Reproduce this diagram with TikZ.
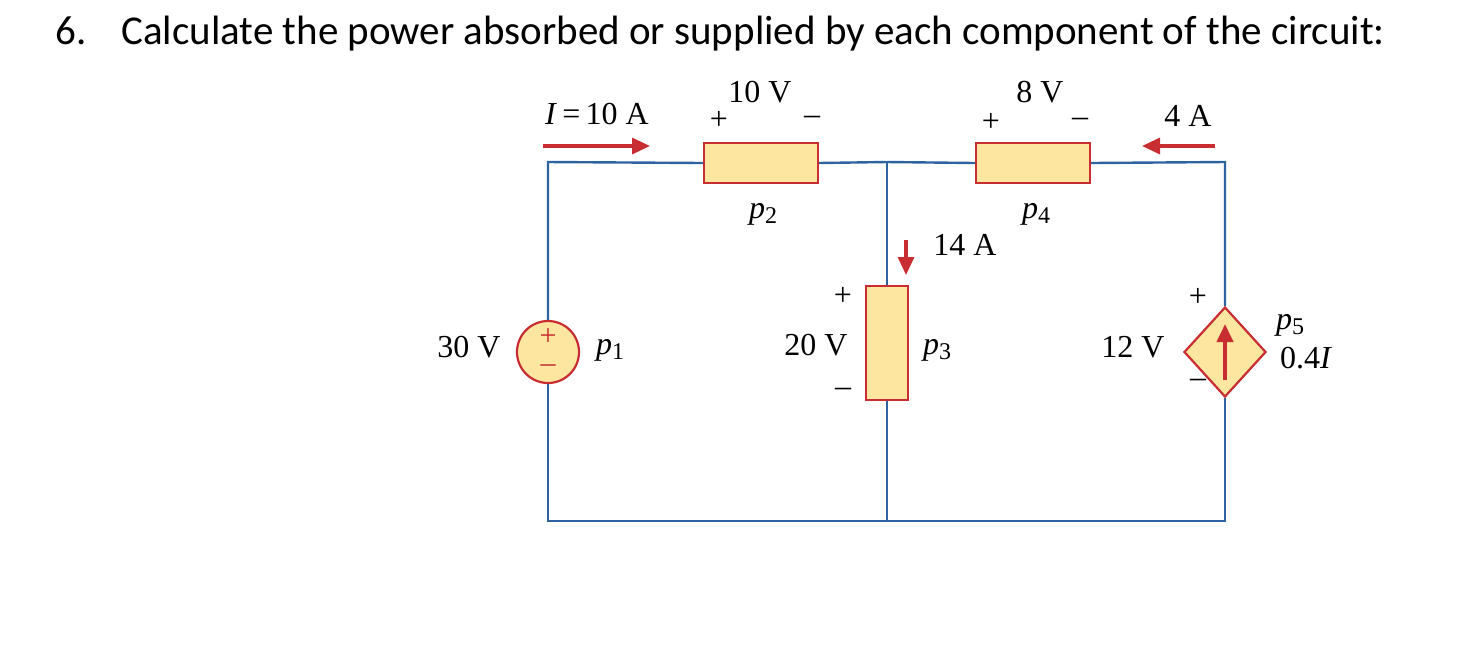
\documentclass[tikz,border=0pt]{standalone}
\usepackage{fontspec}
\setmainfont{Liberation Serif}
\newfontfamily\titlefont{Carlito}
\usetikzlibrary{shapes.geometric,arrows.meta}
\definecolor{wire}{RGB}{45,100,160}
\definecolor{fillc}{RGB}{253,230,160}
\definecolor{redc}{RGB}{200,45,50}
\newcommand{\pp}[1]{\textit{p}\raisebox{-0.35ex}{\fontsize{12}{12}\selectfont #1}}
\tikzset{
  w/.style={draw=wire,line width=1.2pt},
  res/.style={draw=redc,fill=fillc,line width=1.1pt,rectangle,inner sep=0pt},
  lbl/.style={font=\fontsize{16}{18}\selectfont,inner sep=1pt},
  cur/.style={redc,line width=1.6pt,-{Triangle[length=9pt,width=8pt]}},
}
\begin{document}
\begin{tikzpicture}[x=0.5pt,y=-0.5pt]
\useasboundingbox (0,0) rectangle (1472,650);
\node[anchor=west,font=\titlefont\fontsize{20.5}{24}\selectfont,inner sep=0pt] (title) at (55,34) {6.\hspace{0.85em}Calculate the power absorbed or supplied by each component of the circuit:};
% corners
\coordinate (tl) at (548,162); \coordinate (tm) at (887,162); \coordinate (tr) at (1225,162);
\coordinate (bl) at (548,521); \coordinate (bm) at (887,521); \coordinate (br) at (1225,521);
% components
\node[res,minimum width=57pt,minimum height=20pt] (r2) at (761,163) {};
\node[res,minimum width=57pt,minimum height=20pt] (r4) at (1033,163) {};
\node[res,minimum width=21pt,minimum height=57pt] (r3) at (887,343) {};
\node[circle,draw=redc,fill=fillc,line width=1.1pt,minimum size=31pt,inner sep=0pt] (vs) at (548,352) {};
\node[diamond,draw=redc,fill=fillc,line width=1.1pt,minimum width=41pt,minimum height=45pt,inner sep=0pt] (cs) at (1225,352) {};
% wires
\draw[w] (vs.north) -- (tl) -- (r2.west);
\draw[w] (r2.east) -- (tm) -- (r4.west);
\draw[w] (r4.east) -- (tr) -- (cs.north);
\draw[w] (cs.south) -- (br) -- (bm) -- (bl) -- (vs.south);
\draw[w] (tm) -- (r3.north);
\draw[w] (r3.south) -- (bm);
% source symbols
\node[redc,font=\fontsize{15}{15}\selectfont,inner sep=0pt] (vp) at (548,337) {+};
\node[redc,font=\fontsize{15}{15}\selectfont,inner sep=0pt] (vm) at (548,369) {–};
\coordinate (ca) at (1225,380); \coordinate (cb) at (1225,324);
\draw[cur,line width=2pt] (ca) -- (cb);
% current arrows
\coordinate (a1s) at (543,146); \coordinate (a1e) at (650,146);
\draw[cur] (a1s) -- (a1e);
\coordinate (a2s) at (1215,146); \coordinate (a2e) at (1142,146);
\draw[cur] (a2s) -- (a2e);
\coordinate (a3s) at (906,240); \coordinate (a3e) at (906,275);
\draw[cur] (a3s) -- (a3e);
% labels
\node[lbl] (l1) at (597,114) {\textit{I}\,=\,10 A};
\node[lbl] (l2) at (760,92) {10 V};
\node[lbl] (l3) at (719,120) {+};
\node[lbl] (l4) at (812,120) {–};
\node[lbl] (l5) at (1040,92) {8 V};
\node[lbl] (l6) at (991,122) {+};
\node[lbl] (l7) at (1080,122) {–};
\node[lbl] (l8) at (1188,116) {4 A};
\node[lbl] (l9) at (763,214) {\pp{2}};
\node[lbl] (l10) at (1036,214) {\pp{4}};
\node[lbl] (l11) at (965,245) {14 A};
\node[lbl] (l12) at (843,296) {+};
\node[lbl] (l13) at (816,345) {20 V};
\node[lbl] (l14) at (843,392) {–};
\node[lbl] (l15) at (937,350) {\pp{3}};
\node[lbl] (l16) at (469,347) {30 V};
\node[lbl] (l17) at (610,350) {\pp{1}};
\node[lbl] (l18) at (1133,347) {12 V};
\node[lbl] (l19) at (1198,297) {+};
\node[lbl] (l20) at (1198,383) {–};
\node[lbl] (l21) at (1290,325) {\pp{5}};
\node[lbl] (l22) at (1306,358) {0.4\textit{I}};
\end{tikzpicture}
\end{document}
